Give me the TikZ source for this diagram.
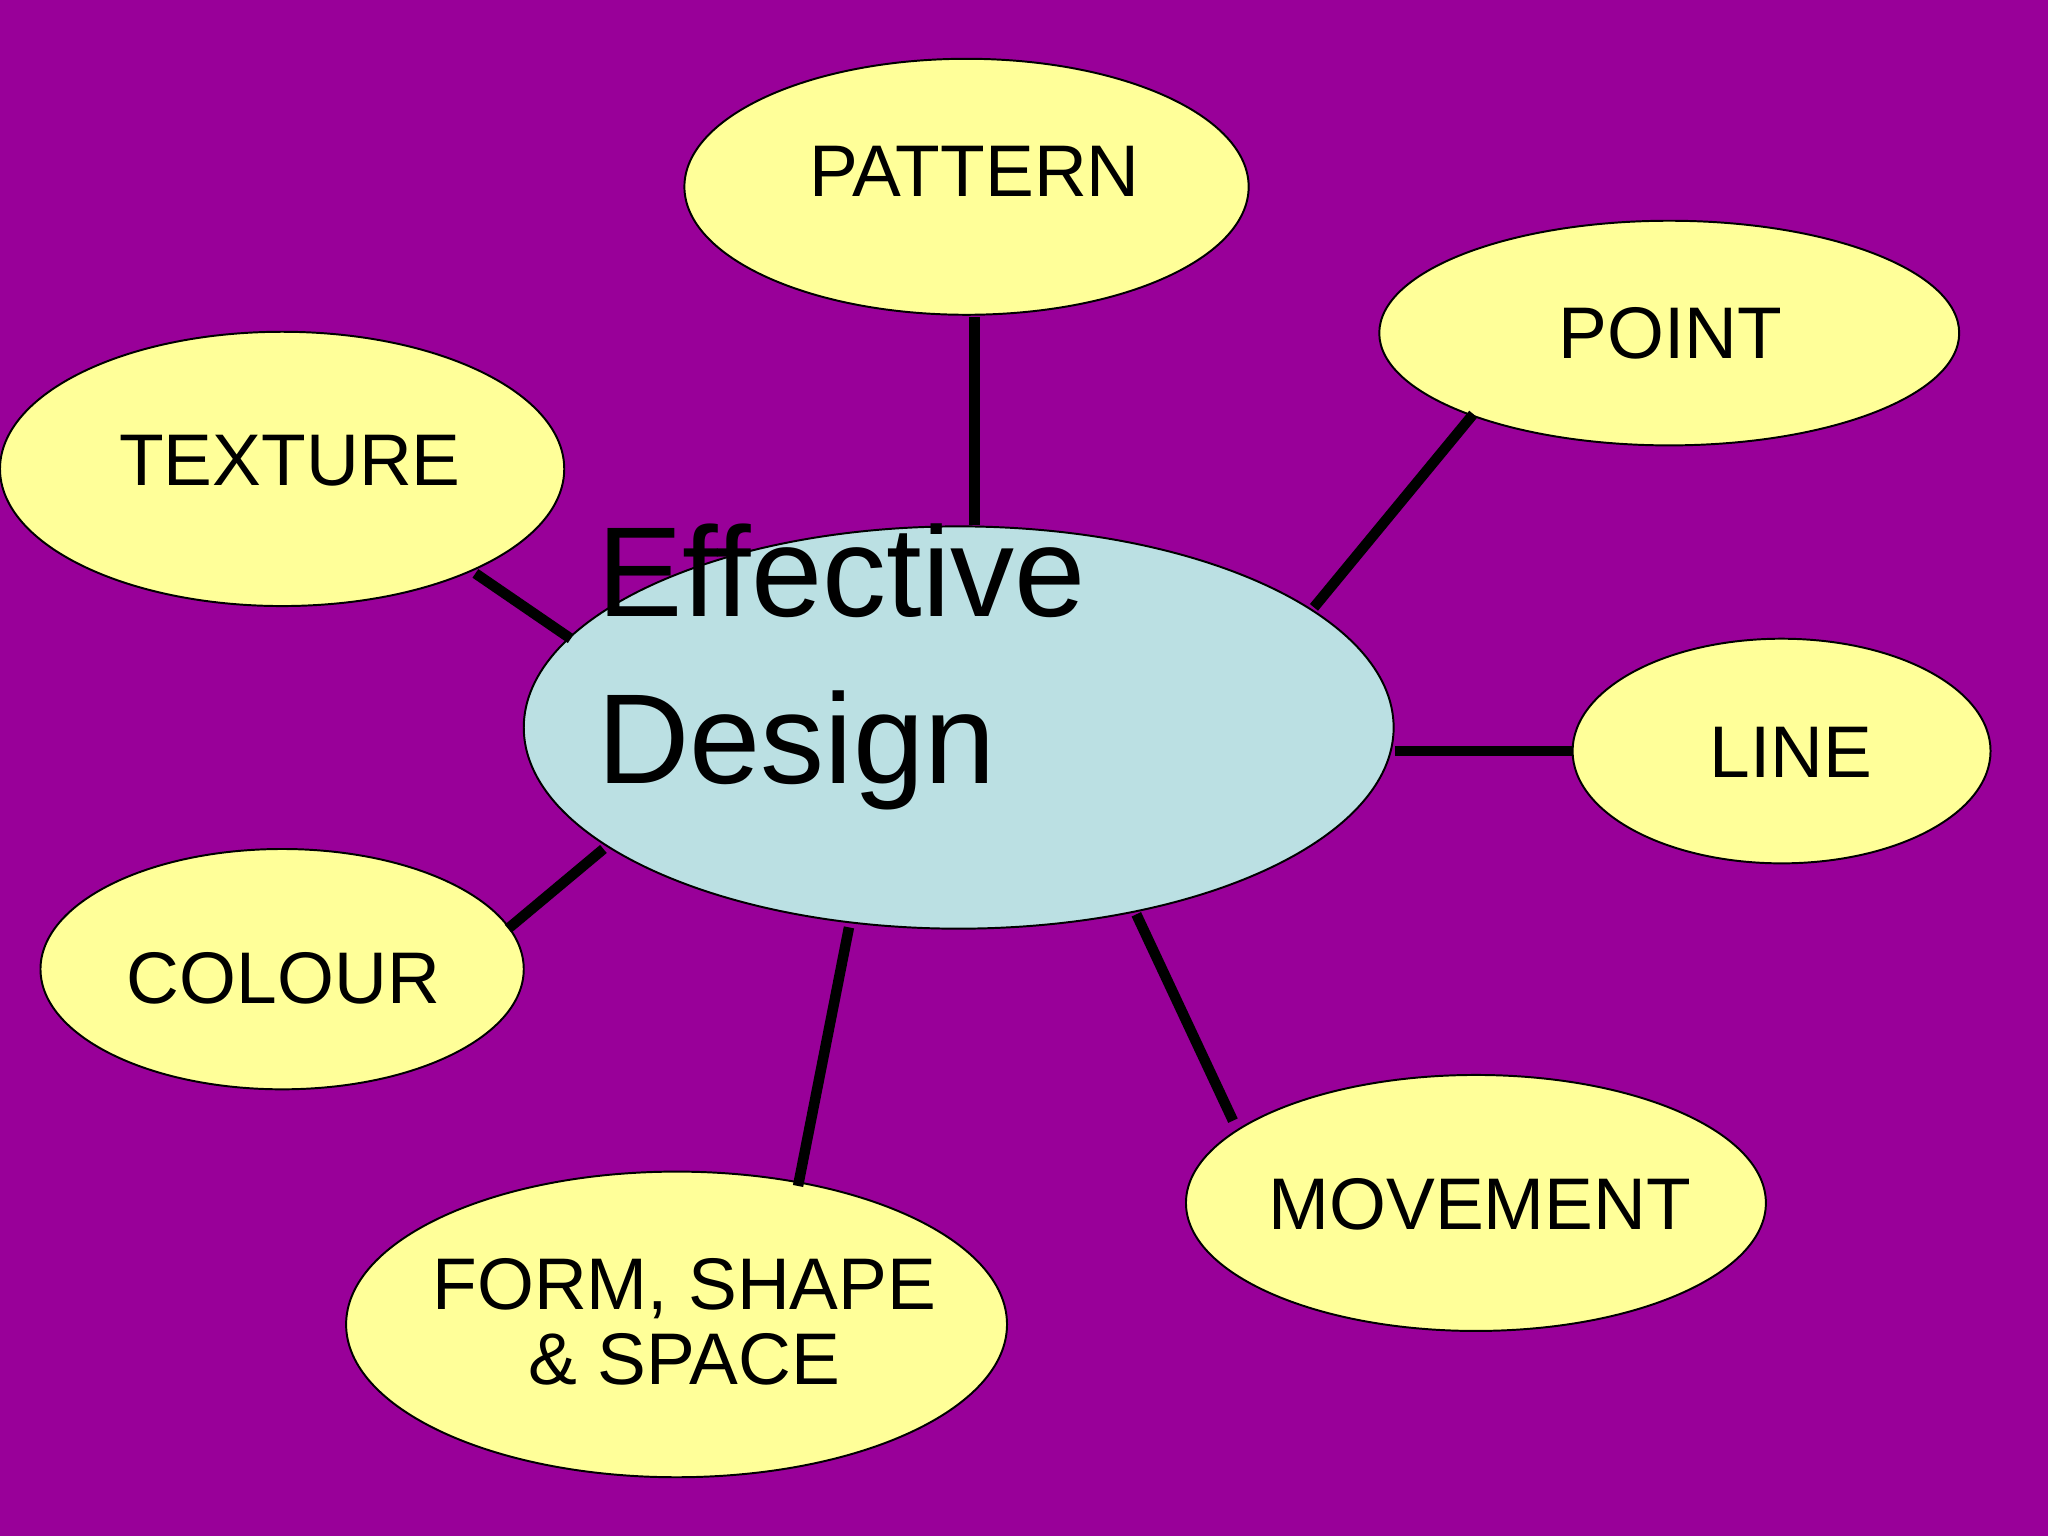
\documentclass[tikz,border=0pt]{standalone}
\usepackage{fontspec}
\setmainfont{Liberation Sans}
\usetikzlibrary{shapes.geometric}
\definecolor{bgp}{HTML}{990099}
\definecolor{yel}{HTML}{FFFF99}
\definecolor{blu}{HTML}{BBE0E3}
\begin{document}
\begin{tikzpicture}[x=1pt,y=-1pt,
  oval/.style={ellipse,draw=black,line width=1.5pt,fill=yel,inner sep=0pt},
  lbl/.style={font=\fontsize{56}{64}\selectfont,align=center},
  con/.style={line width=8pt,black}]
\fill[bgp] (0,0) rectangle (1568,1176);
\useasboundingbox (0,0) rectangle (1568,1176);
\node[oval,minimum width=432,minimum height=196] (pat) at (740,143) {};
\node[oval,minimum width=444,minimum height=172] (poi) at (1278,255) {};
\node[oval,minimum width=432,minimum height=210] (tex) at (216,359) {};
\node[ellipse,draw=black,line width=1.5pt,fill=blu,minimum width=666,minimum height=308] (ctr) at (734,557) {};
\node[oval,minimum width=320,minimum height=172] (lin) at (1364,575) {};
\node[oval,minimum width=370,minimum height=184] (col) at (216,742) {};
\node[oval,minimum width=444,minimum height=196] (mov) at (1130,921) {};
\node[oval,minimum width=506,minimum height=234] (frm) at (518,1014) {};
\node[lbl] (tpat) at (746,131) {PATTERN};
\node[lbl] (tpoi) at (1279,255) {POINT};
\node[lbl] (ttex) at (222,353) {TEXTURE};
\node[lbl] (tlin) at (1371,576) {LINE};
\node[lbl] (tcol) at (217,749) {COLOUR};
\node[lbl] (tmov) at (1133,922) {MOVEMENT};
\node[lbl,font=\fontsize{56}{58}\selectfont] (tfrm) at (524,1012) {FORM, SHAPE\\\& SPACE};
\node[anchor=base west,inner sep=0pt,font=\fontsize{98}{128}\selectfont,align=left] (tctr) at (457,600) {Effective\\Design};
\coordinate (a1) at (746,243); \coordinate (a2) at (746,402);
\coordinate (b1) at (1128,317); \coordinate (b2) at (1006,465);
\coordinate (c1) at (364,439); \coordinate (c2) at (437,489);
\coordinate (d1) at (1068,575); \coordinate (d2) at (1204,575);
\coordinate (e1) at (462,650); \coordinate (e2) at (389,711);
\coordinate (f1) at (650,710); \coordinate (f2) at (611,908);
\coordinate (g1) at (870,700); \coordinate (g2) at (944,858);
\draw[con] (a1) -- (a2);
\draw[con] (b1) -- (b2);
\draw[con] (c1) -- (c2);
\draw[con] (d1) -- (d2);
\draw[con] (e1) -- (e2);
\draw[con] (f1) -- (f2);
\draw[con] (g1) -- (g2);
\end{tikzpicture}
\end{document}
